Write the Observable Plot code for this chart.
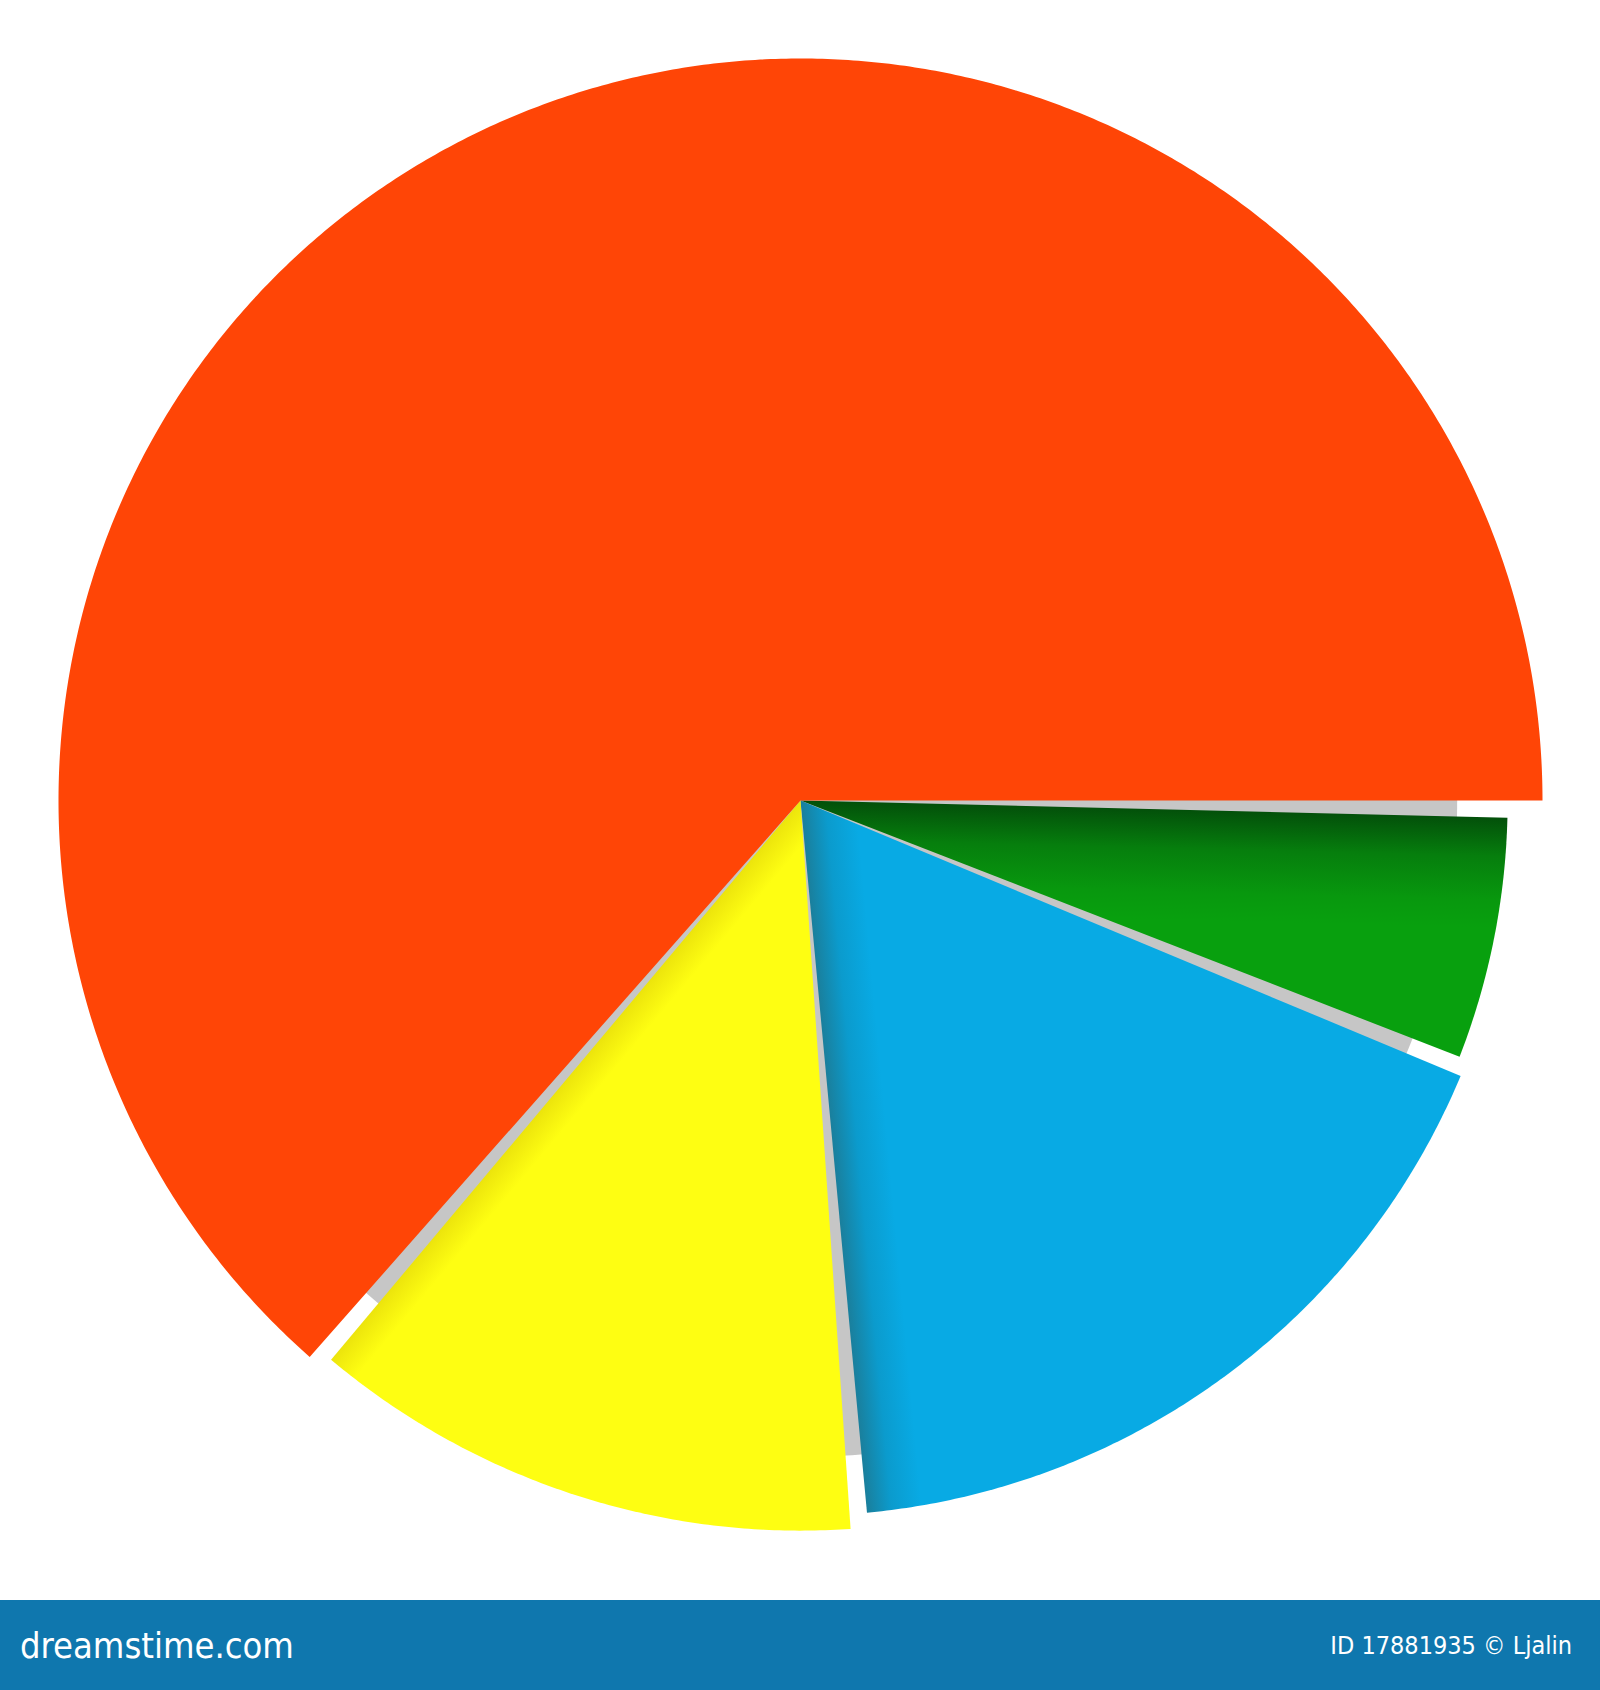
<!DOCTYPE html>
<html>
<head>
<meta charset="utf-8">
<script src="https://cdn.jsdelivr.net/npm/d3@7"></script>
<script src="https://cdn.jsdelivr.net/npm/@observablehq/plot@0.6"></script>
<style>
  html, body { margin: 0; padding: 0; background: #ffffff; }
  #chart { width: 1600px; height: 1600px; }
  #banner {
    width: 1600px; height: 90px; background: #0f77ae; color: #ffffff;
    display: flex; align-items: center; justify-content: space-between;
    box-sizing: border-box; padding: 0 28px 0 20px;
    font-family: "DejaVu Sans Condensed", "DejaVu Sans", sans-serif;
  }
  #banner .brand { font-size: 36px; letter-spacing: 0px; }
  #banner .id { font-size: 25px; font-family: "Liberation Sans Narrow", "DejaVu Sans Condensed", sans-serif; }
</style>
</head>
<body>
<div id="chart"></div>
<div id="banner"><span class="brand">dreamstime.com</span><span class="id">ID 17881935 © Ljalin</span></div>
<script>
// ---- data (clockwise from the 3 o'clock position) ----
const categories = ["Green", "Blue", "Yellow", "Red"];
const values = [5.6, 17.5, 12.4, 64.5];

// ---- styles ----
const fills = {Green: "url(#grad-green)", Blue: "url(#grad-blue)", Yellow: "url(#grad-yellow)", Red: "#ff4506"};
const radiusFactor = {Green: 0.953, Blue: 0.964, Yellow: 0.984, Red: 1.0};
const padDeg = 1.4;
const startDeg = 90 + padDeg / 2;
const rad = Math.PI / 180;

const pie = d3.pie().sort(null).value(d => d.value)
  .startAngle(startDeg * rad).endAngle((startDeg + 360) * rad).padAngle(padDeg * rad);
const arcs = pie(categories.map((c, i) => ({category: c, value: values[i]})));

// polygon points (unit-radius space, y up) for each slice
const pts = [];
const edges = {};
for (const a of arcs) {
  const c = a.data.category;
  const r = radiusFactor[c];
  const a0 = a.startAngle + a.padAngle / 2;
  const a1 = a.endAngle - a.padAngle / 2;
  edges[c] = {a0, a1};
  pts.push({category: c, x: 0, y: 0});
  const n = Math.max(8, Math.ceil((a1 - a0) / (0.4 * rad)));
  for (let k = 0; k <= n; k++) {
    const t = a0 + (a1 - a0) * k / n;
    pts.push({category: c, x: r * Math.sin(t), y: r * Math.cos(t)});
  }
}
// gray "side" visible in the cuts near the centre
const shadow = [];
{
  const n = 720;
  for (let k = 0; k < n; k++) {
    const t = 2 * Math.PI * k / n;
    shadow.push({x: 0.885 * Math.sin(t), y: 0.885 * Math.cos(t)});
  }
}

const ext = 800 / 742;
const chart = Plot.plot({
  width: 1600,
  height: 1600,
  margin: 0,
  x: {domain: [-ext, ext], axis: null},
  y: {domain: [-ext, ext], axis: null},
  style: {background: "#ffffff"},
  marks: [
    Plot.line(shadow, {x: "x", y: "y", curve: "linear-closed", fill: "#c6c6c6", stroke: "none"}),
    Plot.line(pts, {x: "x", y: "y", z: "category", curve: "linear-closed",
      fill: d => fills[d.category], stroke: "none"})
  ]
});

// gradients perpendicular to a slice edge (computed through the plot's scales)
const sx = chart.scale("x"), sy = chart.scale("y");
const cx = sx.apply(0), cy = sy.apply(0);
const svg = d3.select(chart);
const defs = svg.insert("defs", ":first-child");
// inward = +1 for a slice's start edge, -1 for its end edge
function edgeGradient(id, angle, inward, depth, stops) {
  const nx = Math.cos(angle) * inward, ny = Math.sin(angle) * inward;
  const g = defs.append("linearGradient").attr("id", id)
    .attr("gradientUnits", "userSpaceOnUse")
    .attr("x1", cx).attr("y1", cy)
    .attr("x2", cx + nx * depth).attr("y2", cy + ny * depth);
  for (const [o, col] of stops) g.append("stop").attr("offset", o).attr("stop-color", col);
}
edgeGradient("grad-green", edges.Green.a0, 1, 110,
  [[0, "#03500a"], [0.35, "#067e0d"], [0.75, "#08980e"], [1, "#08a00e"]]);
edgeGradient("grad-blue", edges.Blue.a1, -1, 55,
  [[0, "#1a7f9c"], [0.45, "#0b9bcd"], [1, "#08aae4"]]);
edgeGradient("grad-yellow", edges.Yellow.a1, -1, 30,
  [[0, "#ece40c"], [1, "#fefe12"]]);

document.getElementById("chart").appendChild(chart);
</script>
</body>
</html>
